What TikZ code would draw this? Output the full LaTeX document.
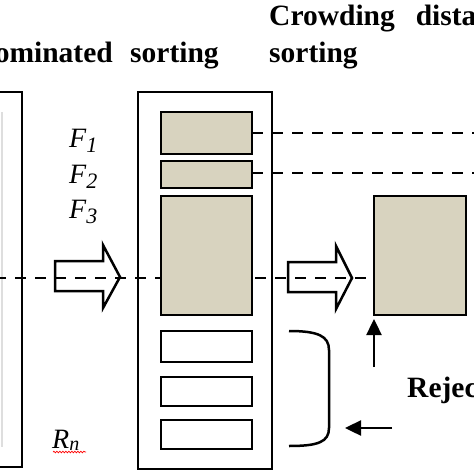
\documentclass[tikz,border=0pt]{standalone}
\usepackage{fontspec}
\setmainfont{Liberation Serif}
\usetikzlibrary{arrows.meta,decorations.pathmorphing}
\definecolor{boxtan}{RGB}{216,211,191}
\definecolor{faintgray}{RGB}{222,222,222}
\begin{document}
\begin{tikzpicture}[x=1pt,y=-1pt,
  outerbox/.style={draw=black,line width=2.7pt,inner sep=0pt,outer sep=0pt},
  tanbox/.style={draw=black,fill=boxtan,line width=2.7pt,inner sep=0pt,outer sep=0pt,minimum width=91pt},
  whitebox/.style={draw=black,fill=white,line width=2.7pt,inner sep=0pt,outer sep=0pt,minimum width=91pt},
  dashln/.style={line width=2.7pt,dash pattern=on 11pt off 9pt},
  blockarr/.style={draw=black,fill=white,line width=2.5pt,line join=miter},
  thinarr/.style={line width=2.4pt,-{Triangle[length=16pt,width=15pt]}},
  titletext/.style={font=\fontsize{29.5}{34}\selectfont\bfseries,inner sep=0pt,anchor=base west},
  flabel/.style={font=\fontsize{28}{32}\selectfont\itshape,inner sep=0pt,anchor=base west}
]
\useasboundingbox (0,0) rectangle (474,474);
\clip (0,0) rectangle (474,474);

% block arrows
\draw[blockarr] (55,261) -- (103,261) -- (103,245) -- (120,277) -- (103,308) -- (103,291) -- (55,291) -- cycle;
\draw[blockarr] (288,262) -- (336,262) -- (336,246) -- (352,278) -- (336,309) -- (336,292) -- (288,292) -- cycle;

% faint inner line of left box
\draw[faintgray,line width=1.5pt] (2,112) -- (2,447);

% dashed lines
\coordinate (dl) at (-5,278);
\coordinate (dr) at (480,278);
\draw[dashln] (dl) -- (dr);

% boxes
\node[outerbox,minimum width=32pt,minimum height=375pt] (lbox) at (6,279.5) {};
\node[outerbox,minimum width=134pt,minimum height=377pt] (mbox) at (205,280.5) {};
\node[tanbox,minimum height=42pt] (f1) at (206.5,133) {};
\node[tanbox,minimum height=27pt] (f2) at (206.5,174.5) {};
\node[tanbox,minimum height=119pt] (f3) at (206.5,255.5) {};
\node[whitebox,minimum height=31pt] (w1) at (206.5,346.5) {};
\node[whitebox,minimum height=29pt] (w2) at (206.5,391.5) {};
\node[whitebox,minimum height=29pt] (w3) at (206.5,434.5) {};

\coordinate (e1) at (480,133);
\coordinate (e2) at (480,173);
\draw[dashln] (f1.east) -- (e1);
\draw[dashln] (f2.east |- 0,173) -- (e2);

\node[tanbox,minimum width=92pt,minimum height=119pt] (rbox) at (420,255.5) {};

% bracket
\draw[line width=2.5pt] (289,331) .. controls (318,331) and (329,336) .. (329,350) -- (329,428) .. controls (329,442) and (318,446) .. (289,446);

% thin arrows
\coordinate (upstart) at (374,367);
\draw[thinarr] (upstart) -- (rbox.south west |- 0,319);
\coordinate (lstart) at (392,428);
\coordinate (lend) at (345,428);
\draw[thinarr] (lstart) -- (lend);

% texts
\node[titletext,anchor=base east] (t1) at (113,62) {Non-dominated};
\node[titletext] (t2) at (130,62) {sorting};
\node[titletext] (t3) at (269,25) {Crowding\hspace{21pt}distance};
\node[titletext] (t4) at (269,62) {sorting};
\node[titletext] (t5) at (407,397) {Rejected};

\node[flabel] (F1) at (69,147) {F\raisebox{-5pt}{\fontsize{22}{24}\selectfont 1}};
\node[flabel] (F2) at (69,183) {F\raisebox{-5pt}{\fontsize{22}{24}\selectfont 2}};
\node[flabel] (F3) at (69,218) {F\raisebox{-5pt}{\fontsize{22}{24}\selectfont 3}};
\node[flabel] (Rn) at (52,448) {R\raisebox{-2pt}{\fontsize{20}{22}\selectfont n}};
\draw[red,line width=0.7pt,decorate,decoration={snake,amplitude=0.8pt,segment length=3pt}] (53,452) -- (86,452);
\end{tikzpicture}
\end{document}
